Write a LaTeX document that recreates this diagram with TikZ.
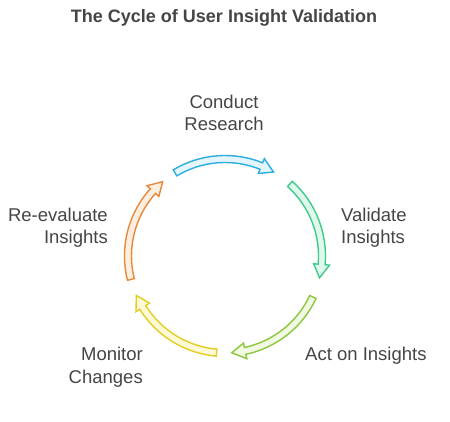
\documentclass[tikz,border=0pt]{standalone}
\usepackage{fontspec}
\setmainfont{Liberation Sans}
\definecolor{txt}{HTML}{454545}
\definecolor{cblue}{HTML}{2AAEE0}\definecolor{fblue}{HTML}{E4F5FC}
\definecolor{cgreen}{HTML}{3DCB8C}\definecolor{fgreen}{HTML}{E0F8EC}
\definecolor{clime}{HTML}{8CC63F}\definecolor{flime}{HTML}{F1F9E2}
\definecolor{cyell}{HTML}{E3CD20}\definecolor{fyell}{HTML}{FDF9D6}
\definecolor{coran}{HTML}{E6883A}\definecolor{foran}{HTML}{FDEEE0}
\newcommand\cycarr[4]{%
  \draw[arrowshape,draw=#3,fill=#4]
    (#1:100.5) arc[start angle=#1, end angle=#2+8, radius=100.5]
    -- (#2+8:105) -- (#2:97) -- (#2+8:89) -- (#2+8:93.5)
    arc[start angle=#2+8, end angle=#1, radius=93.5] -- cycle;}
\begin{document}
\begin{tikzpicture}[x=1pt,y=1pt,
  arrowshape/.style={line width=1.4pt,line join=miter},
  lbl/.style={text=txt,font=\fontsize{18.5}{22.5}\selectfont,inner sep=0pt}]
\useasboundingbox (0,0) rectangle (450,421);
\node[text=txt,font=\bfseries\fontsize{18}{21}\selectfont,anchor=base] (title) at (224,398) {The Cycle of User Insight Validation};
\begin{scope}[shift={(225,165)}]
\cycarr{121}{60}{cblue}{fblue}
\cycarr{48}{-13}{cgreen}{fgreen}
\cycarr{-25}{-86}{clime}{flime}
\cycarr{-95}{-156}{cyell}{fyell}
\cycarr{194}{130}{coran}{foran}
\end{scope}
\node[lbl,align=center,anchor=base] (cr) at (224,290) {Conduct\\Research};
\node[lbl,align=left,anchor=base west] (vi) at (341,177) {Validate\\Insights};
\node[lbl,anchor=base west] (ai) at (305,61) {Act on Insights};
\node[lbl,align=right,anchor=base east] (mc) at (143,38) {Monitor\\Changes};
\node[lbl,align=right,anchor=base east] (ri) at (108,177) {Re-evaluate\\Insights};
\end{tikzpicture}
\end{document}
